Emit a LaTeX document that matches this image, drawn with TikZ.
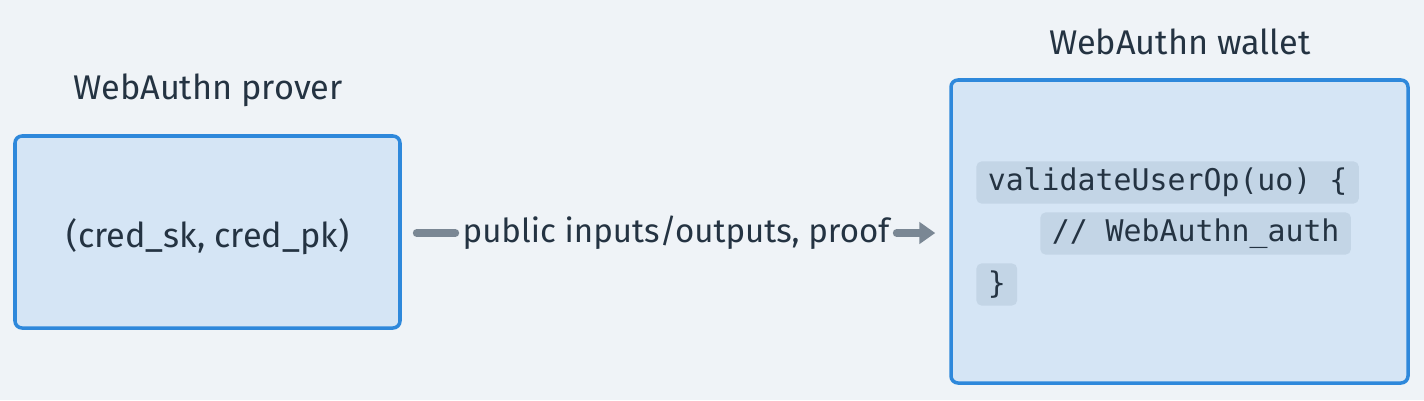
\documentclass[tikz,border=0pt]{standalone}
\usepackage{fontspec}
\setmainfont{Fira Sans}
\setmonofont{DejaVu Sans Mono}
\usetikzlibrary{arrows.meta}
\definecolor{pagebg}{HTML}{EFF3F7}
\definecolor{boxfill}{HTML}{D5E5F5}
\definecolor{boxline}{HTML}{2E88DB}
\definecolor{inkcol}{HTML}{243342}
\definecolor{flowcol}{HTML}{7A8794}
\definecolor{codebg}{HTML}{C3D5E6}
\tikzset{
    compbox/.style={
        draw=boxline, % blue frame
        fill=boxfill,
        line width=2pt,
        rounded corners=4pt,
        inner sep=0
    },
    titletext/.style={
        text=inkcol,
        font=\fontsize{19.5}{23}\selectfont
    },
    codeline/.style={
        fill=codebg,
        rounded corners=3pt,
        anchor=west,
        inner xsep=6.5pt,
        minimum height=24pt,
        text=inkcol,
        font=\ttfamily\fontsize{17}{20}\selectfont
    },
    flowline/.style={
        draw=flowcol,
        line width=4.5pt,
        line cap=round
    }
}

\begin{document}
\begin{tikzpicture}[x=0.02cm,y=-0.02cm]
    % background
    \fill[pagebg] (0,0) rectangle (1424,400);
    \useasboundingbox (0,0) rectangle (1424,400);

    % prover side
    \node[compbox, minimum width=385*0.02cm, minimum height=192*0.02cm] (prover) at (207.5,232) {};
    \node[titletext] (provertitle) at (208,90) {WebAuthn prover};
    \node[titletext] (credpair) at (208,237) {(cred\_sk, cred\_pk)};

    % wallet side
    \node[compbox, minimum width=457*0.02cm, minimum height=303*0.02cm] (wallet) at (1179.5,231.5) {};
    \node[titletext] (wallettitle) at (1180,42) {WebAuthn wallet};
    \node[codeline] (codeA) at (976,182.5) {validateUserOp(uo) \{};
    \node[codeline] (codeB) at (1040,233.5) {// WebAuthn\_auth};
    \node[codeline] (codeC) at (976,284.5) {\}};

    % message
    \node[titletext, font=\fontsize{18.8}{23}\selectfont, inner xsep=4pt] (msg) at (676,233) {public inputs/outputs, proof};
    \draw[flowline, shorten <=15*0.02cm] (prover.east |- msg) -- (msg.west);
    \draw[flowline, -{Triangle[length=9pt,width=12pt]}, shorten >=14*0.02cm] (msg.east) -- (wallet.west |- msg);
\end{tikzpicture}
\end{document}
